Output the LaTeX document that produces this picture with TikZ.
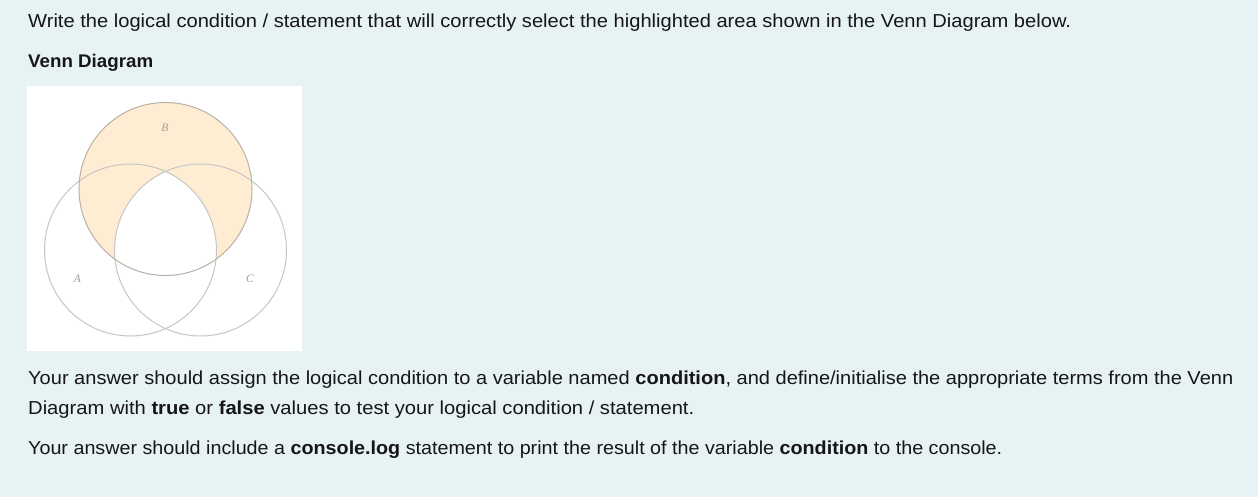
\documentclass[tikz,border=0pt]{standalone}
\usepackage{fontspec}
\setmainfont{Liberation Sans}
\newfontfamily\vennfont{Liberation Serif}
\usepackage{graphicx}
\definecolor{pagebg}{HTML}{E7F2F4}
\definecolor{txt}{HTML}{161616}
\definecolor{hilite}{HTML}{FFEDD3}
\definecolor{bedge}{HTML}{B9B0A6}
\definecolor{cedge}{HTML}{C6C6C6}
\definecolor{lbl}{HTML}{A0A0A0}
\tikzset{
  line/.style={anchor=base west, inner sep=0pt, text=txt, font=\fontsize{18.8}{22}\selectfont},
  vlabel/.style={text=lbl, inner sep=0pt, font=\vennfont\itshape\fontsize{11.5}{13}\selectfont},
  ring/.style={line width=1pt}
}
\begin{document}
\begin{tikzpicture}[x=1pt,y=-1pt]
\useasboundingbox (0,0) rectangle (1258,497);
\fill[pagebg] (0,0) rectangle (1258,497);
% text
\node[line] (l1) at (28,27.5) {\resizebox{1043pt}{\height}{Write the logical condition / statement that will correctly select the highlighted area shown in the Venn Diagram below.}};
\node[line, font=\bfseries\fontsize{18.3}{22}\selectfont] (l2) at (28,67.5) {\resizebox{125pt}{\height}{Venn Diagram}};
\node[line] (l3) at (28,384.5) {\resizebox{1205pt}{\height}{Your answer should assign the logical condition to a variable named \textbf{condition}, and define/initialise the appropriate terms from the Venn}};
\node[line] (l4) at (28,414.5) {\resizebox{666pt}{\height}{Diagram with \textbf{true} or \textbf{false} values to test your logical condition / statement.}};
\node[line] (l5) at (28,454) {\resizebox{974pt}{\height}{Your answer should include a \textbf{console.log} statement to print the result of the variable \textbf{condition} to the console.}};
% venn box
\fill[white] (27,86) rectangle (302,351);
\coordinate (cb) at (165.5,189);
\coordinate (ca) at (130.5,250);
\coordinate (cc) at (200.5,250);
\fill[hilite] (cb) circle[radius=86.5];
\begin{scope}
  \clip (ca) circle[radius=86];
  \fill[white] (cc) circle[radius=86];
\end{scope}
\draw[ring, draw=cedge] (ca) circle[radius=86];
\draw[ring, draw=cedge] (cc) circle[radius=86];
\draw[ring, draw=bedge] (cb) circle[radius=86.5];
\node[vlabel] (lb) at (165,127.5) {B};
\node[vlabel] (la) at (77.5,278.5) {A};
\node[vlabel] (lc) at (250,278.5) {C};
\end{tikzpicture}
\end{document}
